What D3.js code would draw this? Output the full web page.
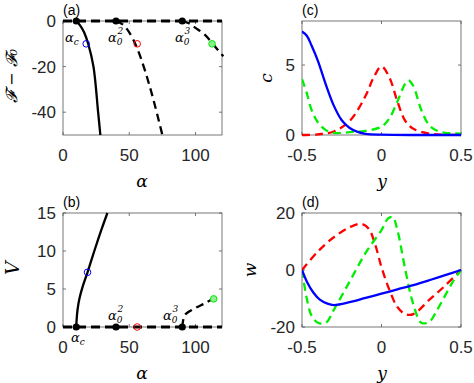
<!DOCTYPE html>
<html>
<head>
<meta charset="utf-8">
<script src="https://cdn.jsdelivr.net/npm/d3@7"></script>
<style>
body{margin:0;background:#fff;}
svg{display:block;font-family:"Liberation Sans",Arial,sans-serif;}
</style>
</head>
<body>
<div id="paper"></div>
<script>
// branch points (alpha_c, alpha_0^2, alpha_0^3)
let branchAlpha = [10, 40, 90];
let branchLabels = [["c", ""], ["0", "2"], ["0", "3"]];

// (a) free energy difference vs alpha
let aSolid = [[10,0],[13,-2],[16,-5],[19,-10],[23,-20],[26.5,-40],[28.2,-50]];
let aDash2 = [[40,0],[45,-1.5],[50,-5],[56,-12],[62,-22],[68,-34],[75,-50]];
let aDash3 = [[90,0],[95,-1],[100,-3],[107,-6],[113,-10],[121,-15.5]];
let aMarks = [[17.5,-10,"blue"],[56,-10,"red"],[112.5,-10,"green"]];

// (b) velocity vs alpha
let bSolid = [[10,0],[10.3,1],[11,2.3],[12.5,3.8],[15,5.4],[18.5,7.2],[24,10.2],[29,12.8],[33.5,15]];
let bDash3 = [[90,0],[90.6,0.8],[92,1.6],[100,2.5],[107,3.1],[113.7,3.8]];
let bMarks = [[18.5,7.2,"blue"],[56,0,"red"],[113.7,3.7,"green"]];

// (c) concentration profiles
let cBlue = [[-0.5,7.4],[-0.47,7.1],[-0.44,6.4],[-0.4,5.3],[-0.35,3.6],[-0.3,2.1],[-0.25,1.05],[-0.2,0.5],[-0.15,0.22],[-0.1,0.08],[0,0.02],[0.25,0],[0.5,0]];
let cRed = [[-0.5,0],[-0.4,0.05],[-0.3,0.25],[-0.2,1.0],[-0.1,2.8],[-0.05,4.1],[0,4.9],[0.05,4.1],[0.1,2.4],[0.15,1.0],[0.2,0.45],[0.3,0.1],[0.4,0.02],[0.5,0]];
let cGreen = [[-0.5,4.0],[-0.47,3.0],[-0.44,1.8],[-0.4,0.9],[-0.35,0.35],[-0.3,0.15],[-0.2,0.2],[-0.1,0.3],[0,0.6],[0.05,1.2],[0.1,2.4],[0.15,3.7],[0.17,3.9],[0.2,3.5],[0.25,1.8],[0.3,0.7],[0.35,0.3],[0.4,0.15],[0.45,0.12],[0.5,0.1]];

// (d) velocity profiles
let wBlue = [[-0.5,0],[-0.47,-4],[-0.43,-7.8],[-0.39,-10.3],[-0.34,-11.8],[-0.3,-12.3],[-0.2,-11.3],[-0.1,-9.8],[0,-8.3],[0.1,-6.8],[0.2,-5.3],[0.3,-3.6],[0.4,-1.8],[0.5,0]];
let wRed = [[-0.5,0],[-0.4,6.5],[-0.3,11.5],[-0.2,15],[-0.125,16.2],[-0.08,14.5],[-0.04,9],[0,1],[0.05,-7],[0.1,-13],[0.15,-15.5],[0.2,-15.5],[0.3,-10.5],[0.4,-5.5],[0.5,0]];
let wGreen = [[-0.5,0],[-0.47,-10],[-0.44,-16],[-0.4,-18.5],[-0.35,-18.5],[-0.3,-14],[-0.2,-4],[-0.1,6],[0,14],[0.04,18],[0.07,18.6],[0.1,14],[0.15,0],[0.2,-12],[0.25,-18.5],[0.3,-18.2],[0.35,-14],[0.4,-9],[0.45,-4],[0.5,0]];

let alphaTicks = [0, 50, 100];
let yTicks = [-0.5, 0, 0.5];

const W = 474, H = 383;
const col = {blue:"#0000ff", red:"#ff0000", green:"#00ee00"};

const svg = d3.select("#paper").append("svg").attr("width", W).attr("height", H);

let panel = (o) => {
	const x = d3.scaleLinear(o.xd, [o.x0, o.x1]);
	const y = d3.scaleLinear(o.yd, [o.y1, o.y0]);
	const g = svg.append("g");
	const clipId = "clip" + o.tag;
	g.append("clipPath").attr("id", clipId).append("rect")
		.attr("x", o.x0).attr("y", o.y0 - 2).attr("width", o.x1 - o.x0 + 2).attr("height", o.y1 - o.y0 + 4);

	// box
	g.append("rect").attr("x", o.x0).attr("y", o.y0).attr("width", o.x1 - o.x0).attr("height", o.y1 - o.y0)
		.attr("fill", "none").attr("stroke", "#555").attr("stroke-width", 0.8);

	// inward ticks on all sides
	const tl = 3;
	const ticks = g.append("g").attr("stroke", "#555").attr("stroke-width", 0.8);
	o.xt.forEach(t => {
		ticks.append("line").attr("x1", x(t)).attr("x2", x(t)).attr("y1", o.y1).attr("y2", o.y1 - tl);
		ticks.append("line").attr("x1", x(t)).attr("x2", x(t)).attr("y1", o.y0).attr("y2", o.y0 + tl);
	});
	o.yt.forEach(t => {
		ticks.append("line").attr("y1", y(t)).attr("y2", y(t)).attr("x1", o.x0).attr("x2", o.x0 + tl);
		ticks.append("line").attr("y1", y(t)).attr("y2", y(t)).attr("x1", o.x1).attr("x2", o.x1 - tl);
	});

	g.selectAll(".xl").data(o.xt).join("text")
		.attr("x", d => x(d)).attr("y", o.y1 + 26).attr("text-anchor", "middle")
		.attr("font-size", 17).attr("fill", "#262626").text(d => d);
	g.selectAll(".yl").data(o.yt).join("text")
		.attr("x", o.x0 - 7).attr("y", d => y(d) + 6).attr("text-anchor", "end")
		.attr("font-size", 17).attr("fill", "#262626").text(d => d);

	g.append("text").attr("x", o.x0).attr("y", o.y0 - 6).attr("font-size", 14).text("(" + o.tag + ")");

	const plot = g.append("g").attr("clip-path", `url(#${clipId})`);
	return {x, y, g, plot};
};

let line = (p, data, color, dash, w) => {
	p.plot.append("path").datum(data)
		.attr("d", d3.line().x(d => p.x(d[0])).y(d => p.y(d[1])).curve(d3.curveCatmullRom))
		.attr("fill", "none").attr("stroke", color).attr("stroke-width", w || 2.3)
		.attr("stroke-dasharray", dash ? "8,5" : null);
};

let marks = (p, data) => {
	p.g.selectAll(null).data(data).join("circle")
		.attr("cx", d => p.x(d[0])).attr("cy", d => p.y(d[1])).attr("r", 3.3)
		.attr("fill", d => d[2] == "green" ? "#8ef08e" : "none")
		.attr("stroke", d => col[d[2]]).attr("stroke-width", 1);
};

let dots = (p, yv) => {
	p.g.selectAll(null).data(branchAlpha).join("circle")
		.attr("cx", d => p.x(d)).attr("cy", p.y(yv)).attr("r", 3.6).attr("fill", "black");
};

let alphaLabel = (p, i, px, py) => {
	const t = p.g.append("text").attr("x", px).attr("y", py)
		.attr("font-family", "'DejaVu Serif', serif").attr("font-style", "italic").attr("font-size", 13);
	t.append("tspan").text("α");
	t.append("tspan").attr("dy", 3).attr("font-size", 9).text(branchLabels[i][0]);
	if(branchLabels[i][1])
		t.append("tspan").attr("dx", -5).attr("dy", -11).attr("font-size", 9).text(branchLabels[i][1]);
};

let axisTitle = (txt, x, y, rot, size) => {
	svg.append("text").attr("x", x).attr("y", y)
		.attr("transform", rot ? `rotate(-90,${x},${y})` : null)
		.attr("text-anchor", "middle").attr("dominant-baseline", "middle")
		.attr("font-family", "'DejaVu Serif', serif").attr("font-style", "italic")
		.attr("font-size", size || 17).text(txt);
};

// (a)
const pa = panel({tag:"a", x0:63, x1:222, y0:21, y1:135, xd:[0,120], yd:[-50,0], xt:alphaTicks, yt:[-40,-20,0]});
line(pa, aSolid, "black", false);
line(pa, aDash2, "black", true);
line(pa, aDash3, "black", true);
pa.plot.append("line").attr("x1", pa.x(0)).attr("x2", pa.x(120)).attr("y1", pa.y(0)).attr("y2", pa.y(0))
	.attr("stroke", "black").attr("stroke-width", 3).attr("stroke-dasharray", "9,5");
dots(pa, 0);
marks(pa, aMarks);
alphaLabel(pa, 0, 65, 42);
alphaLabel(pa, 1, 108, 42);
alphaLabel(pa, 2, 175, 42);

// (b)
const pb = panel({tag:"b", x0:63, x1:222, y0:213, y1:327, xd:[0,120], yd:[0,15], xt:alphaTicks, yt:[0,5,10,15]});
line(pb, bSolid, "black", false);
line(pb, bDash3, "black", true);
pb.plot.append("line").attr("x1", pb.x(0)).attr("x2", pb.x(120)).attr("y1", pb.y(0)).attr("y2", pb.y(0))
	.attr("stroke", "black").attr("stroke-width", 3).attr("stroke-dasharray", "9,5");
dots(pb, 0);
marks(pb, bMarks);
alphaLabel(pb, 0, 71, 342);
alphaLabel(pb, 1, 108, 320);
alphaLabel(pb, 2, 163, 320);

// (c)
const pc = panel({tag:"c", x0:302, x1:461, y0:21, y1:135, xd:[-0.5,0.5], yd:[0,8.15], xt:yTicks, yt:[0,5]});
line(pc, cRed, col.red, true);
line(pc, cGreen, col.green, true);
line(pc, cBlue, col.blue, false);

// (d)
const pd = panel({tag:"d", x0:302, x1:461, y0:213, y1:327, xd:[-0.5,0.5], yd:[-20,20], xt:yTicks, yt:[-20,0,20]});
line(pd, wRed, col.red, true);
line(pd, wGreen, col.green, true);
line(pd, wBlue, col.blue, false);

// axis titles
axisTitle("α", 142, 182, false);
axisTitle("α", 142, 374, false);
axisTitle("y", 382, 182, false);
axisTitle("y", 382, 374, false);
axisTitle("V", 14, 268, true, 19);
axisTitle("c", 267, 78, true);
axisTitle("w", 251, 270, true);
axisTitle("𝓕 − 𝓕₀", 12, 76, true, 16);
</script>
</body>
</html>
